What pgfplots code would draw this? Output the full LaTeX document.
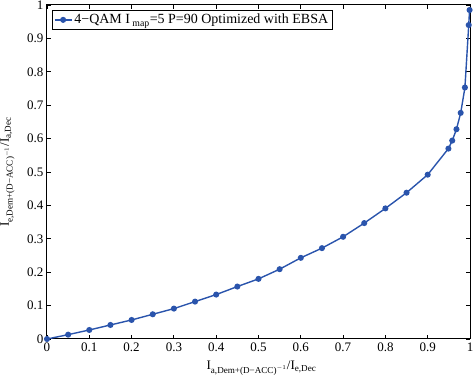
\documentclass[border=0pt]{standalone}
\usepackage{amsmath}
\usepackage{pgfplots}
\pgfplotsset{compat=1.18}
\usepackage{fontspec}
\setmainfont{Liberation Serif}
\definecolor{lineblue}{RGB}{42,84,172}
\begin{document}
\begin{tikzpicture}
\begin{axis}[
  scale only axis,
  width=423pt, height=334pt,
  xmin=0, xmax=1, ymin=0, ymax=1,
  xtick={0,0.1,...,1}, ytick={0,0.1,...,1},
  tick align=inside,
  major tick length=4pt,
  axis line style={line width=1pt},
  every tick/.style={black, line width=0.8pt},
  /pgf/number format/assume math mode=true,
  tick label style={font=\fontsize{13}{14}\selectfont},
  xlabel={I$_{\text{a,Dem+(D−ACC)}^{-1}}$/I$_{\text{e,Dec}}$},
  ylabel={I$_{\text{e,Dem+(D−ACC)}^{-1}}$/I$_{\text{a,Dec}}$},
  label style={font=\fontsize{13}{14}\selectfont},
  xlabel style={at={(axis description cs:0.5,0)}, anchor=base, yshift=-31pt, xshift=3pt},
  ylabel style={at={(axis description cs:0,0.5)}, anchor=south, yshift=29pt},
  legend style={at={(0.011,0.985)}, anchor=north west, draw=black, line width=0.9pt,
    font=\fontsize{14}{15}\selectfont, inner sep=1.8pt},
  legend cell align=left,
]
\addplot[color=lineblue, line width=1.4pt, mark=*, mark size=2.3pt] coordinates {
(0,0) (0.05,0.013) (0.1,0.027) (0.15,0.042) (0.2,0.057) (0.25,0.074)
(0.3,0.091) (0.35,0.112) (0.4,0.133) (0.45,0.157) (0.5,0.180)
(0.55,0.209) (0.6,0.243) (0.65,0.272) (0.7,0.306) (0.75,0.347)
(0.8,0.391) (0.85,0.438) (0.9,0.492) (0.949,0.570) (0.958,0.594)
(0.968,0.628) (0.978,0.677) (0.988,0.753) (0.997,0.940) (0.999,0.985)
};
\addlegendentry{4−QAM I\,$_{\text{map}}$=5 P=90 Optimized with EBSA}
\end{axis}
\pgfresetboundingbox
\path[use as bounding box] ([shift={(-47pt,-37pt)}]current axis.south west) rectangle ([shift={(4pt,5pt)}]current axis.north east);
\end{tikzpicture}
\end{document}
